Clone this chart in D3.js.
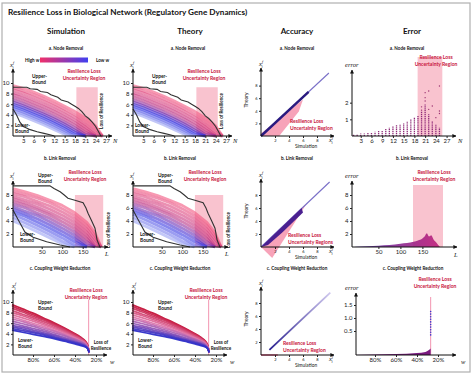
<!DOCTYPE html>
<html><head><meta charset="utf-8">
<script src="https://cdn.jsdelivr.net/npm/d3@7"></script>
<style>
body{margin:0;background:#fff;}
svg{display:block;}
</style></head><body>
<svg id="c" width="474" height="379"></svg>
<script>
// ---------------- DATA ----------------
const columns = ["Simulation","Theory","Accuracy","Error"];
const rowTitles = ["a. Node Removal","b. Link Removal","c. Coupling Weight Reduction"];

// Node removal bundle (x_i^f vs N), one array per coupling weight (high w -> low w)
const nodeN = [0,3,6,9,12,15,18,21,24,26];
const nodeLines = [
 [9.5,9.0,8.3,7.5,6.6,5.6,4.6,3.4,1.9,0],
 [9.1,8.5,7.8,7.0,6.1,5.1,4.0,2.8,1.3,0],
 [8.7,8.1,7.3,6.5,5.6,4.6,3.5,2.2,0.7,0],
 [8.2,7.6,6.8,6.0,5.1,4.1,3.0,1.7,0.2,0],
 [7.8,7.1,6.3,5.5,4.6,3.6,2.5,1.2,0,null],
 [7.3,6.6,5.8,5.0,4.1,3.1,2.0,0.7,0,null],
 [6.8,6.1,5.3,4.5,3.6,2.6,1.5,0.3,0,null],
 [6.4,5.7,4.9,4.1,3.2,2.2,1.1,0,null,null],
 [6.0,5.3,4.5,3.7,2.8,1.8,0.7,0,null,null],
 [5.6,4.9,4.1,3.3,2.4,1.4,0.3,0,null,null],
 [5.2,4.5,3.7,2.9,2.0,1.0,0,null,null,null],
 [4.8,4.1,3.3,2.5,1.6,0.6,0,null,null,null],
 [4.4,3.7,2.9,2.1,1.2,0.3,0,null,null,null]
];
const nodeUpper = [[0,9.2],[4,9.2],[5,8.9],[7,8.8],[8,8.4],[10,8.2],[11,7.8],[13,7.3],[14,6.8],[16,6.4],[17,6.0],[18,5.6],[19,5.2],[20,4.6],[21,3.8],[22,3.3],[23,2.6],[24,1.8],[25,0.6],[25.5,0]];
const nodeLower = [[0,5.1],[1,4.0],[2,2.6],[3,1.8],[5,1.2],[7,0.8],[9,0.5],[11,0.2],[12,0]];
const nodeRegion = [18.4,24.6];

// Link removal bundle (x_i^f vs L)
const linkL = [-20,10,40,70,100,130,160,180,195];
const linkLines = [
 [9.0,8.5,7.9,7.2,6.4,5.3,3.8,2.2,0],
 [8.6,8.1,7.5,6.8,5.9,4.8,3.3,1.7,0],
 [8.2,7.7,7.0,6.3,5.4,4.3,2.8,1.2,0],
 [7.8,7.2,6.6,5.8,4.9,3.8,2.3,0.7,0],
 [7.4,6.8,6.1,5.3,4.4,3.3,1.8,0.2,0],
 [7.0,6.4,5.7,4.9,3.9,2.8,1.3,0,null],
 [6.6,6.0,5.2,4.4,3.4,2.3,0.8,0,null],
 [6.2,5.5,4.8,3.9,2.9,1.8,0.3,0,null],
 [5.8,5.1,4.3,3.4,2.4,1.3,0,null,null],
 [5.4,4.7,3.8,2.9,1.9,0.8,0,null,null],
 [5.0,4.2,3.3,2.4,1.4,0.3,0,null,null],
 [4.5,3.7,2.8,1.9,0.9,0,null,null,null],
 [4.0,3.2,2.3,1.4,0.5,0,null,null,null]
];
const linkUpper = [[-20,9.4],[70,9.4],[80,9.0],[95,8.5],[105,8.0],[114,7.5],[131,7.2],[151,6.8],[158,6.0],[163,5.2],[172,4.0],[180,2.9],[185,1.1],[192,0]];
const linkLower = [[-20,5.7],[-10,4.5],[-3,3.7],[9,2.3],[29,1.5],[62,0.8],[95,0.3],[119,0]];
const linkRegion = [131,200];

// Coupling weight reduction (x_i^f vs w %)
const weightW = [100,90,80,70,60,50,40,35,30,28,26.5];
const weightLines = [
 [9.5,8.7,7.9,7.0,6.1,5.1,4.0,3.4,2.6,1.9,0.5],
 [9.2,8.4,7.6,6.8,5.9,5.0,3.9,3.3,2.5,1.8,0.5],
 [8.8,8.1,7.3,6.6,5.7,4.8,3.8,3.2,2.4,1.8,0.5],
 [8.4,7.7,7.0,6.3,5.5,4.6,3.6,3.1,2.3,1.7,0.5],
 [8.0,7.4,6.7,6.0,5.2,4.4,3.5,3.0,2.3,1.6,0.5],
 [7.6,7.0,6.4,5.7,5.0,4.2,3.3,2.8,2.2,1.6,0.5],
 [7.2,6.6,6.0,5.4,4.7,4.0,3.2,2.7,2.1,1.5,0.5],
 [6.8,6.3,5.7,5.1,4.5,3.8,3.0,2.6,2.0,1.5,0.5],
 [6.4,5.9,5.4,4.8,4.2,3.6,2.9,2.5,1.9,1.4,0.5],
 [6.0,5.5,5.0,4.5,3.9,3.3,2.7,2.3,1.8,1.4,0.5],
 [5.6,5.2,4.7,4.2,3.7,3.1,2.5,2.2,1.7,1.3,0.5],
 [5.3,4.9,4.4,4.0,3.5,2.9,2.4,2.1,1.6,1.3,0.5],
 [5.0,4.6,4.2,3.8,3.3,2.8,2.3,2.0,1.6,1.2,0.5],
 [4.7,4.3,3.9,3.5,3.1,2.6,2.1,1.8,1.5,1.2,0.5]
];
const weightCritical = 27;

// Accuracy panels (simulation, theory)
const accNodeDiag = [[0,0],[9.7,10]];
const accNodeDark = [[0,0],[6.8,7.0]];
const accNodePink = [[0,0],[2.6,0],[5.4,3.9],[6.0,5.8],[0,0.4]];
const accLinkDiag = [[0,0],[9.8,10]];
const accLinkDark = [[0,0],[5.8,6.0],[6.0,5.3],[3.0,2.2],[1.0,0.3]];
const accLinkPink = [[0,0],[1.6,-1.7],[6.6,6.8]];
const accWeightDiag = [[1.2,0.8],[9.9,9.6]];
const accWeightPink = [[0,0],[2.4,0]];

// Error panels
const errNodeN = [1,2,3,4,5,6,7,8,9,10,11,12,13,14,15,16,17,18,19,20,21,22,23,24,25];
const errNodeTop = [0.1,0.1,0.15,0.15,0.2,0.2,0.25,0.3,0.35,0.45,0.5,0.6,0.65,0.7,0.8,0.85,1.0,1.1,1.2,1.5,1.9,1.3,0.9,0.7,0.5];
const errNodeOutN = [20,20,21,21,21,22,22,23,24,25,25,25];
const errNodeOutV = [1.75,1.55,2.6,2.3,2.1,2.7,1.6,1.8,1.1,3.0,1.5,1.35];
const errLinkL = [-10,0,25,50,75,100,115,130,140,150,155,160,165,170,175,180,185,190];
const errLinkV = [0,0.05,0.1,0.2,0.3,0.5,0.6,0.8,1.0,1.3,1.6,2.1,1.6,1.8,1.2,0.8,0.4,0];
const errWeightW = [100,80,60,40,32,29,27];
const errWeightV = [0,0.02,0.04,0.08,0.12,0.18,0.25];
const errWeightDots = [1.25,1.15,1.05,0.95,0.85,0.75,0.65,0.55,0.45,0.35];

const nodeTicks = [3,6,9,12,15,18,21,24,27];
const linkTicks = [50,100,150];
const weightTicks = [80,60,40,20];

// ---------------- DRAWING ----------------
const FONT = "Lato, 'Open Sans', sans-serif";
const SERIF = "'Liberation Serif', 'DejaVu Serif', serif";
const RED = "#c8143c";
const PINK = "#f9c3cf";
const svg = d3.select("#c");
const defs = svg.append("defs");
defs.append("marker").attr("id","arr").attr("viewBox","0 0 10 10").attr("refX",9).attr("refY",5)
  .attr("markerWidth",4).attr("markerHeight",4).attr("orient","auto")
  .append("path").attr("d","M0,0L10,5L0,10z").attr("fill","#111");
const lg = defs.append("linearGradient").attr("id","legendGrad");
lg.append("stop").attr("offset","0%").attr("stop-color","#f0306a");
lg.append("stop").attr("offset","100%").attr("stop-color","#4040f0");

svg.append("rect").attr("x",2).attr("y",3).attr("width",468).attr("height",369)
  .attr("fill","#fff").attr("stroke","#b0b0b0").attr("stroke-width",1.2);

function T(x,y,s,o={}){
  const t=svg.append("text").attr("x",x).attr("y",y).text(s)
    .attr("font-family",o.family||FONT).attr("font-size",o.size||5)
    .attr("font-weight",o.weight||"normal").attr("fill",o.fill||"#111")
    .attr("text-anchor",o.anchor||"start");
  if(o.style) t.attr("font-style",o.style);
  if(o.rot) t.attr("transform",`rotate(${o.rot},${x},${y})`);
  return t;
}
function XIF(x,y){
  const t=T(x,y,"x",{size:6.5,style:"italic",family:SERIF});
  t.append("tspan").attr("font-size",4).attr("dy",-3).attr("dx",0.2).text("f");
  t.append("tspan").attr("font-size",4).attr("dx",-1.6).attr("dy",5).text("i");
}
function arrow(x1,y1,x2,y2){
  svg.append("line").attr("x1",x1).attr("y1",y1).attr("x2",x2).attr("y2",y2)
    .attr("stroke","#111").attr("stroke-width",1).attr("marker-end","url(#arr)");
}
function axisB(scale,y,vals,fmt,size){
  const g=svg.append("g").attr("transform",`translate(0,${y})`)
    .call(d3.axisBottom(scale).tickValues(vals).tickSize(2).tickPadding(1.2).tickFormat(fmt));
  g.select(".domain").remove();
  g.attr("font-family",FONT).attr("font-size",size||6);
  g.selectAll("text").attr("fill","#222");
  g.selectAll("line").attr("stroke","#222");
}
function axisL(scale,x,vals,fmt,size){
  const g=svg.append("g").attr("transform",`translate(${x},0)`)
    .call(d3.axisLeft(scale).tickValues(vals).tickSize(2).tickPadding(1.5).tickFormat(fmt));
  g.select(".domain").remove();
  g.attr("font-family",FONT).attr("font-size",size||6);
  g.selectAll("text").attr("fill","#222");
  g.selectAll("line").attr("stroke","#222");
}

// titles
T(8,15,"Resilience Loss in Biological Network (Regulatory Gene Dynamics)",{size:8.2,weight:"bold"});
const colX=[66,190,297,412];
columns.forEach((c,i)=>T(colX[i],34,c,{size:8,weight:"bold",anchor:"middle"}));
const rowY=[50,160,270];
const subX=[[66,188,297,407],[60,180,297,412],[60,180,297,413]];
rowTitles.forEach((r,j)=>subX[j].forEach(x=>T(x,rowY[j],r,{size:4.6,weight:"bold",anchor:"middle"})));

const bundleColor = d3.scaleLinear().domain([0,0.4,0.72,1]).range(["#f2557e","#c0307e","#2c2ce0","#9aa2f2"]);
const weightColor = d3.scaleLinear().domain([0,0.45,1]).range(["#c4143a","#e27aac","#2e2ec8"]);

function redLabel(cx,y1,y2,l2){
  T(cx,y1,"Resilience Loss",{size:5,weight:"bold",fill:RED,anchor:"middle"});
  T(cx,y2,l2||"Uncertainty Region",{size:5,weight:"bold",fill:RED,anchor:"middle"});
}
function boundLabels(x1,y1,x2,y2){
  T(x1,y1,"Upper-",{size:4.8,weight:"bold"}); T(x1,y1+6,"Bound",{size:4.8,weight:"bold"});
  T(x2,y2,"Lower-",{size:4.8,weight:"bold"}); T(x2,y2+6,"Bound",{size:4.8,weight:"bold"});
}
function bundleLines(xs,ys,xv,lines,w,op){
  const line=d3.line().defined(d=>d[1]!==null).x(d=>xs(d[0])).y(d=>ys(d[1]));
  lines.forEach((vals,i)=>{
    const pts=xv.map((x,k)=>[x,vals[k]]);
    svg.append("path").attr("d",line(pts)).attr("fill","none")
      .attr("stroke",bundleColor(i/(lines.length-1))).attr("stroke-width",w).attr("stroke-opacity",op)
      .attr("stroke-linejoin","round");
  });
}
function boundLine(xs,ys,pts){
  svg.append("path").attr("d",d3.line().x(d=>xs(d[0])).y(d=>ys(d[1]))(pts))
    .attr("fill","none").attr("stroke","#333").attr("stroke-width",1.1);
}

// ---- Row a: Simulation / Theory ----
[0,120].forEach(dx=>{
  const xs=d3.scaleLinear([0,27],[13+dx,106+dx]);
  const ys=d3.scaleLinear([0,10],[136,83]);
  svg.append("rect").attr("x",xs(nodeRegion[0])).attr("y",ys(9.2))
    .attr("width",xs(nodeRegion[1])-xs(nodeRegion[0])).attr("height",ys(0)-ys(9.2)).attr("fill",PINK);
  bundleLines(xs,ys,nodeN,nodeLines,2.8,0.6);
  boundLine(xs,ys,nodeUpper); boundLine(xs,ys,nodeLower);
  arrow(13+dx,136,112+dx,136); arrow(13+dx,136,13+dx,69);
  axisB(xs,136,nodeTicks,d3.format("d"));
  axisL(ys,13+dx,[2,4,6,8,10],d3.format("d"));
  XIF(10+dx,67);
  T(113+dx,143,"N",{size:6.5,style:"italic",family:SERIF});
  redLabel(84+dx,73,80);
  boundLabels(32+dx,78,15+dx,127);
  T(103+dx,111,"Loss of Resilience",{size:4.6,weight:"bold",anchor:"middle",rot:-90});
});
// legend
svg.append("rect").attr("x",40).attr("y",57.5).attr("width",48).attr("height",5).attr("fill","url(#legendGrad)");
T(25,62,"High w",{size:4.6,weight:"bold"});
T(96,62,"Low w",{size:4.6,weight:"bold"});

// ---- Row b: Simulation / Theory ----
[0,120].forEach(dx=>{
  const xs=d3.scaleLinear([-20,200],[13+dx,103.2+dx]);
  const ys=d3.scaleLinear([0,8],[247,195]);
  svg.append("rect").attr("x",xs(linkRegion[0])).attr("y",ys(8))
    .attr("width",xs(linkRegion[1])-xs(linkRegion[0])).attr("height",ys(0)-ys(8)).attr("fill",PINK);
  bundleLines(xs,ys,linkL,linkLines,2.8,0.6);
  boundLine(xs,ys,linkUpper); boundLine(xs,ys,linkLower);
  arrow(13+dx,247,108+dx,247); arrow(13+dx,247,13+dx,181);
  axisB(xs,247,linkTicks,d3.format("d"));
  axisL(ys,13+dx,[2,4,6,8],d3.format("d"));
  XIF(10+dx,178);
  T(105+dx,256,"L",{size:6.5,style:"italic",family:SERIF});
  redLabel(85+dx,174,181);
  boundLabels(38+dx,177,20+dx,236);
  T(110+dx,230,"Loss of Resilience",{size:4.6,weight:"bold",anchor:"middle",rot:-90});
});

// ---- Row c: Simulation / Theory ----
[0,120].forEach(dx=>{
  const xs=d3.scaleLinear([100,0],[12+dx,117+dx]);
  const ys=d3.scaleLinear([0,10],[355,302]);
  svg.append("line").attr("x1",xs(weightCritical)).attr("x2",xs(weightCritical)).attr("y1",300).attr("y2",355)
    .attr("stroke","#f08aa8").attr("stroke-width",0.9);
  const line=d3.line().x(d=>xs(d[0])).y(d=>ys(d[1])).curve(d3.curveMonotoneX);
  weightLines.forEach((vals,i)=>{
    svg.append("path").attr("d",line(weightW.map((w,k)=>[w,vals[k]]))).attr("fill","none")
      .attr("stroke",weightColor(i/(weightLines.length-1))).attr("stroke-width",1.7).attr("stroke-opacity",0.95);
  });
  arrow(13+dx,355,107+dx,355); arrow(13+dx,355,13+dx,290);
  axisB(xs,355,weightTicks,d=>d+"%");
  axisL(ys,13+dx,[2,4,6,8,10],d3.format("d"));
  XIF(12+dx,288);
  T(110+dx,364,"w",{size:6.5,style:"italic",family:SERIF});
  redLabel(86+dx,292,299);
  boundLabels(38+dx,304,18+dx,342);
  T(101+dx,344,"Loss of",{size:4.6,weight:"bold",anchor:"middle"});
  T(101+dx,350,"Resilience",{size:4.6,weight:"bold",anchor:"middle"});
});

// ---- Accuracy panels ----
function accPanel(ys0,ys1,pinkPts,darkPts,diag,opts){
  const xs=d3.scaleLinear([0,10],[261,331]);
  const ys=d3.scaleLinear([0,10],[ys0,ys1]);
  const L=d3.line().x(d=>xs(d[0])).y(d=>ys(d[1]));
  if(pinkPts){
    if(opts.pinkLine) svg.append("path").attr("d",L(pinkPts)).attr("stroke","#f08aa8").attr("stroke-width",2).attr("fill","none");
    else svg.append("path").attr("d",L(pinkPts)+"Z").attr("fill","#f7a3b9");
  }
  if(opts.grad){
    const gid="g"+ys0;
    const g=defs.append("linearGradient").attr("id",gid).attr("gradientUnits","userSpaceOnUse")
      .attr("x1",xs(diag[0][0])).attr("y1",ys(diag[0][1])).attr("x2",xs(diag[1][0])).attr("y2",ys(diag[1][1]));
    g.append("stop").attr("offset","0%").attr("stop-color","#2a2090");
    g.append("stop").attr("offset","100%").attr("stop-color","#cfc8ee");
    svg.append("path").attr("d",L(diag)).attr("stroke",`url(#${gid})`).attr("stroke-width",1.8).attr("fill","none");
  } else {
    svg.append("path").attr("d",L(diag)).attr("stroke","#7a70c8").attr("stroke-width",1.1).attr("fill","none");
    if(opts.darkPoly) svg.append("path").attr("d",L(darkPts)+"Z").attr("fill","#4a2090");
    else svg.append("path").attr("d",L(darkPts)).attr("stroke","#2a1a80").attr("stroke-width",2.4).attr("fill","none");
  }
  arrow(261,ys0,334,ys0); arrow(261,ys0,261,ys0-68);
  axisB(xs,ys0,[2,4,6,8],d3.format("d"),4);
  axisL(ys,261,[2,4,6,8],d3.format("d"),4);
  XIF(259,ys0-70);
  XIF(329,ys0+6);
  T(306,ys0+12,"Simulation",{size:4.8,anchor:"middle"});
  T(248,ys0-36,"Theory",{size:4.8,anchor:"middle",rot:-90});
  T(opts.tx,opts.ty,"Resilience Loss",{size:5,weight:"bold",fill:RED});
  T(opts.tx,opts.ty+6.5,opts.t2||"Uncertainty Region",{size:5,weight:"bold",fill:RED});
}
accPanel(136,73,accNodePink,accNodeDark,accNodeDiag,{tx:290,ty:123});
accPanel(247,182,accLinkPink,accLinkDark,accLinkDiag,{tx:288,ty:237,darkPoly:true,t2:"Uncertainty Regions"});
accPanel(355,290,accWeightPink,null,accWeightDiag,{tx:283,ty:345,grad:true,pinkLine:true});

// ---- Error panels ----
function errLabel(y){ T(345,y,"error",{size:6.5,style:"italic",family:SERIF}); }
// a
{
  const xs=d3.scaleLinear([0,27],[350,446.6]);
  const ys=d3.scaleLinear([0,3],[136,86]);
  svg.append("rect").attr("x",xs(18.9)).attr("y",57).attr("width",xs(25.8)-xs(18.9)).attr("height",136-57).attr("fill",PINK);
  errNodeN.forEach((n,i)=>{
    svg.append("line").attr("x1",xs(n)).attr("x2",xs(n)).attr("y1",ys(0)).attr("y2",ys(errNodeTop[i]))
      .attr("stroke","#8e2a78").attr("stroke-width",1.3).attr("stroke-dasharray","1.2,0.7");
  });
  errNodeOutN.forEach((n,i)=>svg.append("circle").attr("cx",xs(n)).attr("cy",ys(errNodeOutV[i])).attr("r",0.7).attr("fill","#9a3070"));
  arrow(352,136,456,136); arrow(352,136,352,70);
  axisB(xs,136,nodeTicks,d3.format("d"));
  axisL(ys,352,[1,2],d3.format("d"));
  errLabel(67);
  T(458,143,"N",{size:6.5,style:"italic",family:SERIF});
  T(436,59,"Resilience Loss",{size:5,weight:"bold",fill:RED,anchor:"middle"});
  T(436,66,"Uncertainty Region",{size:5,weight:"bold",fill:RED,anchor:"middle"});
}
// b
{
  const xs=d3.scaleLinear([-10,190],[352,440]);
  const ys=d3.scaleLinear([0,8],[247,195]);
  svg.append("rect").attr("x",413).attr("y",185).attr("width",30).attr("height",62).attr("fill",PINK);
  const gid="errGradB";
  const g=defs.append("linearGradient").attr("id",gid).attr("gradientUnits","userSpaceOnUse")
    .attr("x1",xs(0)).attr("x2",xs(190)).attr("y1",0).attr("y2",0);
  g.append("stop").attr("offset","0%").attr("stop-color","#5030a8");
  g.append("stop").attr("offset","100%").attr("stop-color","#c0207a");
  const A=d3.area().x(d=>xs(d[0])).y0(ys(0)).y1(d=>ys(d[1])).curve(d3.curveMonotoneX);
  svg.append("path").attr("d",A(errLinkL.map((l,k)=>[l,errLinkV[k]]))).attr("fill",`url(#${gid})`).attr("fill-opacity",0.9);
  arrow(352,247,457,247); arrow(352,247,352,181);
  axisB(xs,247,linkTicks,d3.format("d"));
  axisL(ys,352,[2,4,6,8],d3.format("d"));
  errLabel(178);
  T(454,257,"L",{size:6.5,style:"italic",family:SERIF});
  T(434,174,"Resilience Loss",{size:5,weight:"bold",fill:RED,anchor:"middle"});
  T(434,181,"Uncertainty Region",{size:5,weight:"bold",fill:RED,anchor:"middle"});
}
// c
{
  const xs=d3.scaleLinear([100,0],[354,459]);
  const ys=d3.scaleLinear([0,2],[344,292]);
  const yb=355;
  svg.append("line").attr("x1",xs(weightCritical)).attr("x2",xs(weightCritical)).attr("y1",297).attr("y2",yb)
    .attr("stroke","#f08aa8").attr("stroke-width",0.9);
  const A=d3.area().x(d=>xs(d[0])).y0(yb).y1(d=>yb-(ys(0)-ys(d[1]))).curve(d3.curveMonotoneX);
  svg.append("path").attr("d",A(errWeightW.map((w,k)=>[w,errWeightV[k]]))).attr("fill","#7a1a80");
  errWeightDots.forEach(v=>svg.append("circle").attr("cx",xs(weightCritical)).attr("cy",ys(v)).attr("r",0.8).attr("fill","#3a3ad0"));
  arrow(356,yb,456,yb); arrow(356,yb,356,293);
  axisB(xs,yb,weightTicks,d=>d+"%");
  axisL(ys,356,[0.5,1.0,1.5],d3.format(".1f"));
  errLabel(290);
  T(461,364,"w",{size:6.5,style:"italic",family:SERIF});
  T(435,281,"Resilience Loss",{size:5,weight:"bold",fill:RED,anchor:"middle"});
  T(435,288,"Uncertainty Region",{size:5,weight:"bold",fill:RED,anchor:"middle"});
}
</script></body></html>
